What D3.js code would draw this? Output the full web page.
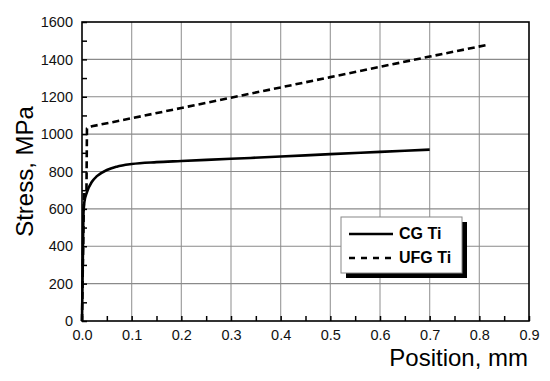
<!DOCTYPE html>
<html>
<head>
<meta charset="utf-8">
<script src="https://cdn.jsdelivr.net/npm/d3@7"></script>
<style>
  body { margin: 0; background: #fff; }
  svg { font-family: "Liberation Sans", Arial, sans-serif; }
</style>
</head>
<body>
<div class="chart"></div>
<script>
// data
cgX = [0, 0.001, 0.002, 0.003, 0.005, 0.01, 0.02, 0.03, 0.05, 0.07, 0.1, 0.15, 0.2, 0.3, 0.4, 0.5, 0.6, 0.7];
cgY = [0, 200, 400, 580, 640, 690, 745, 775, 808, 826, 840, 850, 856, 868, 880, 893, 905, 917];
ufgX = [0, 0.002, 0.004, 0.009, 0.01, 0.02, 0.1, 0.2, 0.3, 0.4, 0.5, 0.6, 0.7, 0.815];
ufgY = [0, 350, 690, 700, 1030, 1042, 1085, 1140, 1195, 1250, 1305, 1360, 1415, 1477];
xTicks = [0, 0.1, 0.2, 0.3, 0.4, 0.5, 0.6, 0.7, 0.8, 0.9];
yTicks = [0, 200, 400, 600, 800, 1000, 1200, 1400, 1600];
seriesNames = ["CG Ti", "UFG Ti"];

width = 550;
height = 381;
margin = ({top: 22, right: 21, bottom: 60, left: 82});

svg = d3.select('.chart').append('svg')
    .attr("width", width)
    .attr("height", height);

x = d3.scaleLinear().domain([0, 0.9]).range([margin.left, width - margin.right]);
y = d3.scaleLinear().domain([0, 1600]).range([height - margin.bottom, margin.top]);

// grid
svg.append("g").selectAll("line")
    .data(xTicks.slice(1, -1))
    .join("line")
    .attr("x1", d => x(d)).attr("x2", d => x(d))
    .attr("y1", y(0)).attr("y2", y(1600))
    .attr("stroke", "#a0a0a0").attr("stroke-width", 1.2);
svg.append("g").selectAll("line")
    .data(yTicks.slice(1, -1))
    .join("line")
    .attr("y1", d => y(d)).attr("y2", d => y(d))
    .attr("x1", x(0)).attr("x2", x(0.9))
    .attr("stroke", "#8a8a8a").attr("stroke-width", 1.2);

// axes, ticks pointing inward
minorX = d3.range(0, 0.9001, 0.05);
minorY = d3.range(0, 1601, 100);
svg.append("g")
    .attr("transform", `translate(0, ${y(0)})`)
    .call(d3.axisBottom(x).tickValues(minorX).tickSize(-5).tickSizeOuter(0)
        .tickFormat(d => Math.round(d * 100) % 10 == 0 ? d3.format(".1f")(d) : ""))
    .call(g => g.select(".domain").remove())
    .call(g => g.selectAll(".tick line").attr("stroke-width", 1.5))
    .call(g => g.selectAll("text").attr("dy", "1.1em").style("font-size", "14.5px").attr("fill", "#111"));
svg.append("g")
    .attr("transform", `translate(${x(0)}, 0)`)
    .call(d3.axisLeft(y).tickValues(minorY).tickSize(-5).tickSizeOuter(0)
        .tickFormat(d => d % 200 == 0 ? d : ""))
    .call(g => g.select(".domain").remove())
    .call(g => g.selectAll(".tick line").attr("stroke-width", 1.5))
    .call(g => g.selectAll("text").attr("x", -9).style("font-size", "14.5px").attr("fill", "#111"));

// frame
svg.append("rect")
    .attr("x", x(0)).attr("y", y(1600))
    .attr("width", x(0.9) - x(0)).attr("height", y(0) - y(1600))
    .attr("fill", "none").attr("stroke", "#000").attr("stroke-width", 1.6);

// curves
cgLine = d3.line().x(d => x(d[0])).y(d => y(d[1])).curve(d3.curveMonotoneX);
ufgLine = d3.line().x(d => x(d[0])).y(d => y(d[1]));

svg.append("path")
    .attr("d", ufgLine(d3.zip(ufgX, ufgY)))
    .attr("fill", "none").attr("stroke", "#000").attr("stroke-width", 2.6)
    .attr("stroke-dasharray", "7,4");
svg.append("path")
    .attr("d", cgLine(d3.zip(cgX, cgY)))
    .attr("fill", "none").attr("stroke", "#000").attr("stroke-width", 2.6);

// axis titles
svg.append("text")
    .attr("transform", `translate(33, ${(y(0) + y(1600)) / 2}) rotate(-90)`)
    .attr("text-anchor", "middle")
    .style("font-size", "24px")
    .text("Stress, MPa");
svg.append("text")
    .attr("x", x(0.9) - 1).attr("y", 366)
    .attr("text-anchor", "end")
    .style("font-size", "24px")
    .text("Position, mm");

// legend
lg = svg.append("g").attr("transform", "translate(341, 217)");
lg.append("rect").attr("x", 5).attr("y", 5).attr("width", 121).attr("height", 56).attr("fill", "#000");
lg.append("rect").attr("x", 0).attr("y", 0).attr("width", 121).attr("height", 56)
    .attr("fill", "#fff").attr("stroke", "#888").attr("stroke-width", 1);
lg.selectAll("line")
    .data(seriesNames)
    .join("line")
    .attr("x1", 8).attr("x2", 52)
    .attr("y1", (d, i) => 17 + i * 24).attr("y2", (d, i) => 17 + i * 24)
    .attr("stroke", "#000").attr("stroke-width", 2.6)
    .attr("stroke-dasharray", (d, i) => i ? "6,6" : null);
lg.selectAll("text")
    .data(seriesNames)
    .join("text")
    .attr("x", 58).attr("y", (d, i) => 22 + i * 24)
    .style("font-size", "16px").style("font-weight", "bold")
    .text(d => d);
</script>
</body>
</html>
